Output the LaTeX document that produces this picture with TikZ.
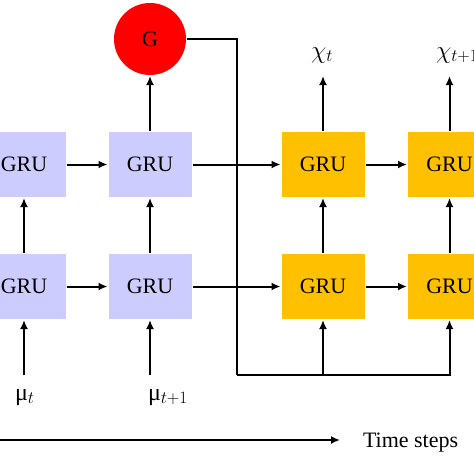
\documentclass[tikz,border=0pt]{standalone}
\usepackage{fontspec}
\setmainfont{Liberation Serif}
\usetikzlibrary{arrows.meta}
\definecolor{grublue}{RGB}{204,204,255}
\definecolor{gruorange}{RGB}{255,192,0}

\begin{document}
\begin{tikzpicture}[x=1pt, y=-1pt, line width=2pt, every node/.style={font=\fontsize{22}{26}\selectfont}, >={Latex[length=9pt,width=8pt]},
	gru/.style={minimum width=83pt, minimum height=65pt, inner sep=0pt},
	var/.style={font=\fontsize{24}{28}\selectfont, inner sep=0pt}]
	\useasboundingbox (0,0) rectangle (474,474);
	\clip (0,0) rectangle (474,474);
	% encoder (left) and decoder (right) GRU cells
	\foreach \n/\x in {1/24,2/150} {\node[gru, fill=grublue] (lt\n) at (\x,164.5) {GRU}; \node[gru, fill=grublue] (lb\n) at (\x,286.5) {GRU}; \draw[->] (lb\n) -- (lt\n);}
	\foreach \n/\x in {1/323,2/449.5} {\node[gru, fill=gruorange] (ot\n) at (\x,164.5) {GRU}; \node[gru, fill=gruorange] (ob\n) at (\x,286.5) {GRU}; \draw[->] (ob\n) -- (ot\n);}
	\draw[->] (lt1) -- (lt2);
	\draw[->] (lt2) -- (ot1);
	\draw[->] (ot1) -- (ot2);
	\draw[->] (lb1) -- (lb2);
	\draw[->] (lb2) -- (ob1);
	\draw[->] (ob1) -- (ob2);
	% generator and its feedback line
	\node[circle, fill=red, minimum size=72pt, inner sep=0pt] (g) at (150,39) {G};
	\draw[->] (lt2) -- (g);
	\coordinate (fb) at (237,375);
	\draw (g) -| (fb);
	\draw[->] (fb) -| (ob2);
	\draw[->] (fb -| ob1) -- (ob1);
	% outputs
	\coordinate (out1) at (323,76);
	\coordinate (out2) at (449.5,76);
	\draw[->] (ot1) -- (out1);
	\draw[->] (ot2) -- (out2);
	\node[var, anchor=base west] (chi1) at (310,58) {$\chi_t$};
	\node[var, anchor=base west] (chi2) at (435,58) {$\chi_{t+1}$};
	% inputs
	\coordinate (in1) at (24,375);
	\coordinate (in2) at (150,375);
	\draw[->] (in1) -- (lb1);
	\draw[->] (in2) -- (lb2);
	\node[var, anchor=base west] (mu1) at (14,400) {\mbox{μ}$_t$};
	\node[var, anchor=base west] (mu2) at (147,400) {\mbox{μ}$_{t+1}$};
	% time axis
	\coordinate (ts0) at (0,440);
	\coordinate (ts1) at (340,440);
	\draw[->] (ts0) -- (ts1);
	\node[anchor=base west, inner sep=0pt] (ts) at (362,447) {Time steps};
\end{tikzpicture}
\end{document}
